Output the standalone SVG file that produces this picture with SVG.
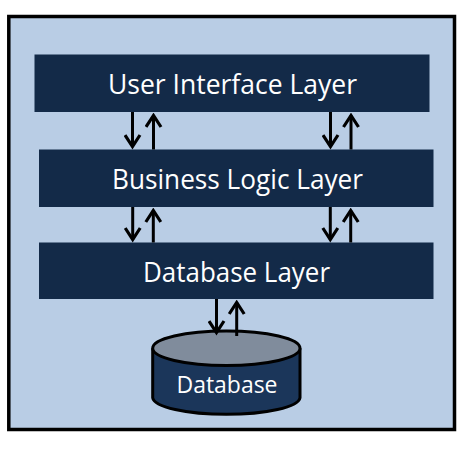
<svg xmlns="http://www.w3.org/2000/svg" width="474" height="449" viewBox="0 0 474 449">
  <style>
    .layer { fill: #132a48; }
    .lbl { font-family: "Open Sans", "Liberation Sans", sans-serif; fill: #ffffff; text-anchor: middle; }
    .big { font-size: 27px; }
    .small { font-size: 23px; }
    .conn { stroke: #000000; stroke-width: 3; fill: none; }
  </style>
  <defs>
    <marker id="head" viewBox="0 0 16 18" refX="13" refY="9" markerWidth="16" markerHeight="18" markerUnits="userSpaceOnUse" orient="auto">
      <path d="M1.5,1.5 L13,9 L1.5,16.5" fill="none" stroke="#000000" stroke-width="3.2" stroke-linejoin="miter"/>
    </marker>
  </defs>
  <rect x="0" y="0" width="474" height="449" fill="#ffffff"/>
  <g id="frame">
    <rect x="8.8" y="16.5" width="445.7" height="413" fill="#b9cde5" stroke="#000000" stroke-width="3.5"/>
  </g>
  <g id="ui-layer">
    <rect class="layer" x="34.5" y="54.5" width="395" height="57.5"/>
    <text class="lbl big" x="232.5" y="93.5" textLength="249" lengthAdjust="spacingAndGlyphs">User Interface Layer</text>
  </g>
  <g id="business-layer">
    <rect class="layer" x="39" y="149.5" width="394.5" height="57.5"/>
    <text class="lbl big" x="237.5" y="188.5" textLength="251" lengthAdjust="spacingAndGlyphs">Business Logic Layer</text>
  </g>
  <g id="database-layer">
    <rect class="layer" x="39" y="242.5" width="394.5" height="56.5"/>
    <text class="lbl big" x="236.5" y="282" textLength="187" lengthAdjust="spacingAndGlyphs">Database Layer</text>
  </g>
  <g id="database">
    <path d="M152.7,348.3 L152.7,397.7 A73.7,17.3 0 0 0 300,397.7 L300,348.3" fill="#1b365a" stroke="#000000" stroke-width="3"/>
    <ellipse cx="226.35" cy="348.3" rx="73.65" ry="17.3" fill="#808c9c" stroke="#000000" stroke-width="3"/>
    <text class="lbl small" x="227" y="392.5" textLength="101" lengthAdjust="spacingAndGlyphs">Database</text>
  </g>
  <g id="connectors">
    <line class="conn" x1="132.5" y1="112" x2="132.5" y2="146.5" marker-end="url(#head)"/>
    <line class="conn" x1="153.5" y1="149.5" x2="153.5" y2="115.5" marker-end="url(#head)"/>
    <line class="conn" x1="330.5" y1="112" x2="330.5" y2="146.5" marker-end="url(#head)"/>
    <line class="conn" x1="351" y1="149.5" x2="351" y2="115.5" marker-end="url(#head)"/>
    <line class="conn" x1="132.7" y1="207" x2="132.7" y2="239.5" marker-end="url(#head)"/>
    <line class="conn" x1="153.3" y1="242.5" x2="153.3" y2="210.5" marker-end="url(#head)"/>
    <line class="conn" x1="330.3" y1="207" x2="330.3" y2="239.5" marker-end="url(#head)"/>
    <line class="conn" x1="350.7" y1="242.5" x2="350.7" y2="210.5" marker-end="url(#head)"/>
    <line class="conn" x1="216.5" y1="299" x2="216.5" y2="332.5" marker-end="url(#head)"/>
    <line class="conn" x1="236.7" y1="336" x2="236.7" y2="302.5" marker-end="url(#head)"/>
  </g>
</svg>
